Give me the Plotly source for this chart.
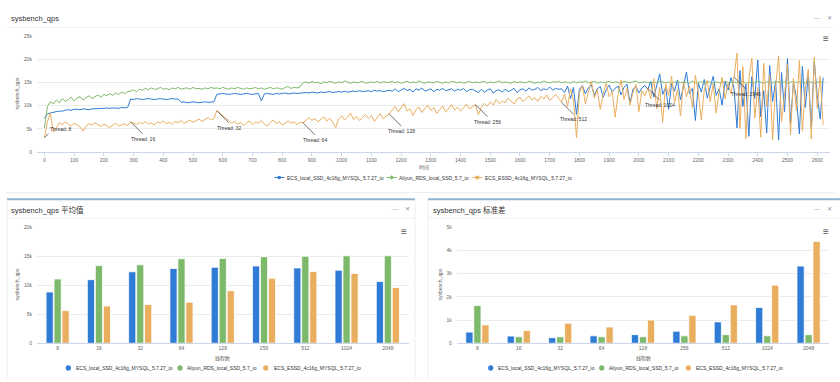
import plotly.graph_objects as go

W, H = 840, 382
def px(x): return x / W
def py(y): return 1 - y / H

FONT = "Liberation Sans, Noto Sans CJK SC, sans-serif"

series_names = ["ECS_local_SSD_4c16g_MYSQL_5.7.27_io", "Aliyun_RDS_local_SSD_5.7_io", "ECS_ESSD_4c16g_MYSQL_5.7.27_io"]
colors = ["#2f7bd6", "#7cb96a", "#eaae5f"]
symbols = ["circle", "diamond", "square"]

sample_interval = 10  # seconds between samples

ecs_local_qps = [
    7300, 8200, 8400, 8600, 8700, 8800, 8800, 9000, 9100, 9000, 9200, 9200, 9100, 9300, 9200, 9100, 9300, 9300, 9400, 9300, 9400, 9500, 9400, 9500, 9500, 9400, 9600, 9500, 9600,
    11400, 11300, 11500, 11400, 11300, 11400, 11500, 11400, 11300, 11400, 11500, 11400, 11300, 11400, 11500, 11400, 11400,
    10700, 10800, 10600, 10700, 10800, 10700, 10600, 10700, 10800, 10700, 10700, 10800,
    12400, 12500, 12600, 12500, 12400, 12500, 12600, 12500, 12400, 12500, 12600, 12500, 12400, 12500, 12600, 11000, 12500, 12600, 12500, 12400, 12600, 12500, 12600, 12700, 12500, 12600, 12700, 12600, 12700,
    12700, 12800, 12700, 12900, 12800, 12700, 12900, 12800, 12900, 13000, 12800, 12900, 13000, 12900, 13100, 12900, 13000, 13100, 13000, 13200, 13000, 13100, 13200, 13000, 13300, 13100, 13200, 13000, 13200,
    13300, 13100, 13600, 13000, 13400, 13700, 13200, 13500, 12900, 13600, 13300, 13800, 13100, 13400, 13600, 13000, 13500, 13300, 13700, 13200, 13400, 13600, 13100, 13500, 13300, 13700, 13000, 13400, 13500,
    13200, 12800, 13500, 12900, 13300, 13600, 12700, 13200, 13400, 12900, 13500, 13000, 13300, 13700, 12800, 13400, 13600, 13100, 13800, 13300, 13500, 13900, 13200, 13600, 13400, 14000, 13300, 13700, 13500,
    13600, 12800, 14200, 11500, 13900, 8100, 13500, 14300, 12500, 13800, 14500, 12200, 13600, 14100, 11800, 13400, 14400, 12900, 13700, 14200, 12300, 13900, 14600, 10500, 13500, 14100, 12700, 13800, 14300,
    13500, 15200, 11800, 14100, 16800, 12400, 13900, 9200, 14700, 13100, 15500, 11200, 14300, 17200, 12600, 13700, 6800, 14800, 12900, 15600, 11600, 14000, 16300, 12200, 13600, 10100, 15100, 13300, 16000,
    13800, 5200, 17500, 9800, 14600, 3400, 16200, 11500, 19800, 7600, 13200, 4100, 18600, 10900, 15300, 2600, 17100, 8700, 20100, 6200, 14900, 11800, 3900, 18400, 9600, 16700, 5400, 19500, 12200, 7100, 16000,
]

rds_qps = [
    5200, 9800, 10800, 10400, 11200, 10600, 11500, 10900, 11300, 11800, 11000, 11600, 11900, 11200, 11700, 12100, 11500, 12000, 12300, 11800, 12400, 12100, 12600, 12200, 12700, 12400, 12900, 12600, 13000,
    13100, 13400, 13000, 13500, 13300, 13700, 13400, 13800, 13500, 13600, 13900, 13500, 13700, 13400, 13800, 13600, 13900, 13500, 13700, 13800, 13500, 13900, 13600, 13700, 13500, 13800, 13600, 13900, 13700,
    13800, 13600, 13900, 13700, 13500, 13800, 13600, 13900, 13700, 13500, 13800, 13600, 13700, 13900, 13600, 13800, 13500, 13700, 13900, 13600, 13800, 13700, 13500, 13900, 14100, 13700, 13900, 13800, 14000,
    14900, 15100, 14800, 15200, 14900, 15000, 14700, 15100, 14900, 15200, 15000, 14800, 15100, 14900, 15300, 15000, 14800, 15100, 14900, 15000, 15200, 14800, 15000, 15100, 14900, 15200, 14900, 15100, 15000,
    15000, 15200, 14900, 15100, 14800, 15000, 15200, 14900, 15100, 14900, 15300, 15000, 14800, 15100, 15000, 14900, 15200, 15000, 14800, 15100, 14900, 15200, 15000, 14900, 15100, 14800, 15000, 15200, 14900,
    15100, 14900, 15000, 15200, 14800, 15100, 14900, 15000, 15300, 14900, 15100, 15000, 14800, 15200, 14900, 15100, 15000, 14900, 15200, 15000, 14800, 15100, 14900, 15300, 15000, 14900, 15100, 15000, 15200,
    14900, 15100, 15000, 14800, 15200, 14900, 15100, 15000, 15300, 14900, 15000, 15200, 14800, 15100, 14900, 15000, 15200, 14900, 15100, 15000, 14800, 15200, 15000, 14900, 15100, 15300, 14900, 15000, 15100,
    15000, 14800, 15100, 14900, 15200, 15000, 14900, 15100, 14800, 15000, 15200, 14900, 15100, 15000, 14800, 15300, 14900, 15000, 15100, 14900, 15200, 15000, 14800, 15100, 14900, 15000, 15200, 15000, 14900,
    15100, 14900, 15000, 15200, 14800, 15000, 15100, 14900, 15200, 15000, 14800, 15100, 15000, 14900, 15200, 15000, 14900, 15100, 14800, 15000, 15200, 14900, 15100, 15000, 14900, 15200, 15000, 14800, 15100, 15000, 15100,
]

ecs_essd_qps = [
    3100, 6500, 8400, 4300, 5200, 6300, 5900, 6500, 6000, 5600, 6200, 5800, 5400, 4500, 5600, 6100, 5800, 6300, 5900, 5500, 6000, 5700, 5300, 5800, 6200, 5600, 5900, 6100, 5700,
    6500, 6200, 5900, 6400, 6100, 6600, 6000, 6300, 5800, 6500, 6200, 6700, 6100, 6400, 6000, 6600, 6300, 6800, 6200, 6500, 6900, 6400, 6700, 7100, 6600, 7000, 7400, 6900, 7200,
    8900, 8300, 7800, 7300, 6800, 6200, 6600, 6000, 6400, 5700, 6300, 6700, 5900, 6500, 6200, 6800, 6000, 5600, 6400, 6900, 6100, 6600, 5800, 6300, 6700, 6200, 6500, 5900, 6400,
    6300, 6900, 7400, 6800, 7200, 6500, 7000, 7600, 6700, 7300, 6400, 5300, 7100, 7800, 6900, 7500, 8400, 7000, 7700, 6800, 7400, 8100, 7200, 7900, 6600, 7500, 8300, 7100, 7800,
    8200, 9000, 9800, 8700, 9500, 10400, 8800, 9300, 7900, 9100, 9700, 8500, 9400, 10100, 8900, 9600, 8300, 9200, 9900, 8600, 9400, 10200, 9000, 9700, 8800, 9500, 10300, 9300, 9800,
    10200, 8000, 9600, 10500, 9900, 10800, 10100, 11300, 10400, 11000, 10600, 11600, 10900, 10300, 11400, 11800, 10800, 11500, 12100, 11200, 11700, 10900, 12000, 11400, 12300, 11100, 11800, 12400, 11600,
    10700, 12500, 9800, 13600, 11200, 3100, 12800, 14300, 10400, 12900, 15200, 11600, 13400, 9200, 12600, 14800, 11900, 13100, 7500, 12400, 15500, 11300, 13700, 10100, 12800, 14600, 8700, 13200, 12100,
    13700, 11500, 15800, 9300, 13900, 6400, 14700, 12200, 16300, 10600, 13500, 7800, 15100, 11900, 14200, 9600, 16500, 12700, 6900, 13300, 15400, 10800, 14600, 8400, 13100, 16100, 11400, 14800, 12500,
    16100, 21300, 5100, 18400, 2900, 15700, 20200, 7300, 13900, 3200, 19100, 9800, 16600, 2600, 14200, 20600, 6500, 12300, 18900, 3700, 15900, 8900, 19700, 4500, 13600, 17800, 2800, 20400, 9400, 16300, 5800,
]

thread_labels = ["Thread: 8", "Thread: 16", "Thread: 32", "Thread: 64", "Thread: 128",
                 "Thread: 256", "Thread: 512", "Thread: 1024", "Thread: 2048"]
thread_start_times = [0, 290, 580, 870, 1160, 1450, 1740, 2030, 2320]

top_yticks = [0, 5000, 10000, 15000, 20000, 25000]
top_yticklabels = ["0", "5k", "10k", "15k", "20k", "25k"]

categories = ["8", "16", "32", "64", "128", "256", "512", "1024", "2048"]
avg_ecs_local = [8820, 10940, 12300, 12860, 13080, 13300, 12960, 12580, 10620]
avg_rds = [11060, 13360, 13500, 14540, 14600, 14880, 14980, 15050, 15050]
avg_ecs_essd = [5620, 6400, 6680, 7070, 9040, 11180, 12360, 12020, 9600]
std_ecs_local = [480, 310, 240, 320, 370, 520, 920, 1540, 3320]
std_rds = [1620, 280, 280, 280, 280, 320, 370, 320, 370]
std_ecs_essd = [790, 550, 860, 700, 1000, 1200, 1650, 2500, 4380]

avg_yticks = [0, 5000, 10000, 15000, 20000]
avg_yticklabels = ["0", "5k", "10k", "15k", "20k"]
std_yticks = [0, 1000, 2000, 3000, 4000, 5000]
std_yticklabels = ["0", "1k", "2k", "3k", "4k", "5k"]

fig = go.Figure()

# ---------- top time series ----------
ts_series = [ecs_local_qps, rds_qps, ecs_essd_qps]
for name, vals, col in zip(series_names, ts_series, colors):
    t = [i * sample_interval for i in range(len(vals))]
    fig.add_trace(go.Scatter(x=t, y=vals, mode="lines", line=dict(color=col, width=1),
                             name=name, showlegend=False, xaxis="x", yaxis="y", hoverinfo="skip"))

# ---------- bottom bars ----------
bar_sets = [
    ("x2", "y2", [avg_ecs_local, avg_rds, avg_ecs_essd]),
    ("x3", "y3", [std_ecs_local, std_rds, std_ecs_essd]),
]
for xa, ya, sets in bar_sets:
    for name, vals, col in zip(series_names, sets, colors):
        fig.add_trace(go.Bar(x=categories, y=vals, name=name,
                             marker=dict(color=col, line=dict(color="white", width=0.8)),
                             xaxis=xa, yaxis=ya, showlegend=False, hoverinfo="skip"))

tickfont = dict(size=5, color="#666666", family=FONT)
grid = "#ebebeb"
axisline = "#ccd6eb"

layout = dict(
    width=W, height=H, margin=dict(l=0, r=0, t=0, b=0),
    paper_bgcolor="white", plot_bgcolor="white",
    font=dict(family=FONT, color="#333333"),
    showlegend=False,
    barmode="group", bargap=0.42, bargroupgap=0.1,
    xaxis=dict(domain=[px(37), px(830)], range=[-25, 2643], dtick=100, tick0=0, tickfont=tickfont,
               showgrid=False, showline=True, linecolor=axisline, ticks="outside", ticklen=3, tickcolor=axisline,
               zeroline=False, anchor="y"),
    yaxis=dict(domain=[py(151.5), py(33)], range=[0, 25060], tickvals=top_yticks, ticktext=top_yticklabels,
               tickfont=tickfont, gridcolor=grid, zeroline=False, showline=False, anchor="x", ticklabelstandoff=4),
    xaxis2=dict(domain=[px(37), px(408.5)], type="category", tickfont=tickfont, showgrid=False,
                showline=True, linecolor=axisline, anchor="y2"),
    yaxis2=dict(domain=[py(345.7), py(227.3)], range=[0, 20050], tickvals=avg_yticks, ticktext=avg_yticklabels,
                tickfont=tickfont, gridcolor=grid, zeroline=False, anchor="x2", ticklabelstandoff=4),
    xaxis3=dict(domain=[px(456.7), px(829.3)], type="category", tickfont=tickfont, showgrid=False,
                showline=True, linecolor=axisline, anchor="y3"),
    yaxis3=dict(domain=[py(345.7), py(227.3)], range=[0, 5012], tickvals=std_yticks, ticktext=std_yticklabels,
                tickfont=tickfont, gridcolor=grid, zeroline=False, anchor="x3", ticklabelstandoff=4),
)
fig.update_layout(**layout)

annotations = []
shapes = []

# thread annotations on the ESSD series
for lbl, t0 in zip(thread_labels, thread_start_times):
    v = ecs_essd_qps[t0 // sample_interval]
    if t0 == thread_start_times[0]:
        placement = dict(ax=4, ay=-4, xanchor="left", yanchor="bottom")
    else:
        placement = dict(ax=12, ay=12, xanchor="center", yanchor="top")
    annotations.append(dict(x=t0, y=v, xref="x", yref="y", text=lbl, showarrow=True, arrowhead=0,
                            arrowwidth=0.7, arrowcolor="#333333",
                            font=dict(size=5, color="#333333"), **placement))

def txt(x, y, s, size, color="#333333", xanchor="left", angle=0, yanchor="middle"):
    annotations.append(dict(x=px(x), y=py(y), xref="paper", yref="paper", text=s, showarrow=False,
                            xanchor=xanchor, yanchor=yanchor, textangle=angle,
                            font=dict(size=size, color=color, family=FONT)))

def hline(x0, x1, y, color, width=1):
    shapes.append(dict(type="line", xref="paper", yref="paper", x0=px(x0), x1=px(x1), y0=py(y), y1=py(y),
                       line=dict(color=color, width=width)))

def vline(x, y0, y1, color, width=1):
    shapes.append(dict(type="line", xref="paper", yref="paper", x0=px(x), x1=px(x), y0=py(y0), y1=py(y1),
                       line=dict(color=color, width=width)))

def marker_shape(cx, cy, r, kind, color):
    if kind == "circle":
        shapes.append(dict(type="circle", xref="paper", yref="paper", x0=px(cx - r), x1=px(cx + r),
                           y0=py(cy + r), y1=py(cy - r), fillcolor=color, line=dict(width=0)))
    elif kind == "square":
        shapes.append(dict(type="rect", xref="paper", yref="paper", x0=px(cx - r), x1=px(cx + r),
                           y0=py(cy + r), y1=py(cy - r), fillcolor=color, line=dict(width=0)))
    else:
        d = r * 1.3
        path = (f"M {px(cx)},{py(cy - d)} L {px(cx + d)},{py(cy)} L {px(cx)},{py(cy + d)} "
                f"L {px(cx - d)},{py(cy)} Z")
        shapes.append(dict(type="path", xref="paper", yref="paper", path=path, fillcolor=color, line=dict(width=0)))

# legends (drawn as text + symbols)
top_legend_pos = [(279.3, 285), (391.7, 396.7), (477.3, 483.3)]
for (sx, tx), name, col, sym in zip(top_legend_pos, series_names, colors, symbols):
    hline(sx - 5, sx + 5, 177.3, col, 1)
    marker_shape(sx, 177.3, 1.8, sym, col)
    txt(tx, 177.3, name, 5, "#333333")

bl_legend_pos = [(68.3, 74), (180, 185), (265.7, 271.7)]
br_legend_pos = [(490.7, 496), (601.7, 606.7), (688.3, 694)]
for pos in (bl_legend_pos, br_legend_pos):
    for (sx, tx), name, col in zip(pos, series_names, colors):
        marker_shape(sx, 370.7, 2.6, "circle", col)
        txt(tx, 370.7, name, 5, "#333333")

# panel titles
txt(9, 16, "sysbench_qps", 7.5)
txt(9, 210, "sysbench_qps 平均值", 7.5)
txt(431, 210, "sysbench_qps 标准差", 7.5)
# axis titles
txt(17, 92, "sysbench_qps", 5, "#666666", "center", -90)
txt(424, 167, "时间", 5, "#666666", "center")
txt(17, 286, "sysbench_qps", 5, "#666666", "center", -90)
txt(222, 361, "线程数", 5, "#666666", "center")
txt(440, 286, "sysbench_qps", 5, "#666666", "center", -90)
txt(643, 361, "线程数", 5, "#666666", "center")
# window icons
for (x, y) in [(817, 15), (395, 209), (817, 209)]:
    txt(x, y, "—", 6, "#9aa0aa", "center")
    txt(x + 12, y, "✕", 6, "#8a93a6", "center")
for (x, y) in [(826, 36.5), (404, 232), (826, 232)]:
    txt(x, y, "≡", 10, "#555555", "center")

# panel chrome
hline(6, 834, 25, "#f0f0f0")
hline(6, 834, 192.5, "#eeeeee")
hline(7, 415, 199.5, "#8fb4d2", 2)
hline(428, 840, 199.5, "#8fb4d2", 2)
hline(7, 415, 218.5, "#f0f0f0")
hline(428, 840, 218.5, "#f0f0f0")
vline(7, 200, 382, "#eeeeee")
vline(415, 200, 382, "#eeeeee")
vline(428, 200, 382, "#eeeeee")

fig.update_layout(annotations=annotations, shapes=shapes)

fig.write_html("out.html", config={"displayModeBar": False},
               post_script="document.body.style.margin='0';document.body.style.overflow='hidden';")
